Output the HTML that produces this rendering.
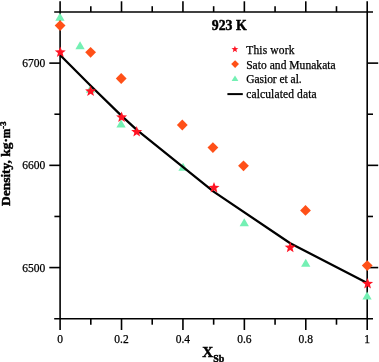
<!DOCTYPE html>
<html lang="en">
<head>
<meta charset="utf-8">
<title>Density vs X_Sb at 923 K</title>
<style>
html,body{margin:0;padding:0;background:#fff;}
body{width:379px;height:362px;overflow:hidden;}
svg{display:block;filter:blur(0.35px);}
</style>
</head>
<body>
<svg width="379" height="362" viewBox="0 0 379 362">
<rect width="379" height="362" fill="#fff"/>
<g stroke="#000" stroke-width="1.60" fill="none">
<line x1="54.2" y1="12.0" x2="373" y2="12.0"/>
<line x1="54.2" y1="318.7" x2="373" y2="318.7"/>
<line x1="60.1" y1="1.3" x2="60.1" y2="330.0"/>
<line x1="367.2" y1="1.3" x2="367.2" y2="330.0"/>
<line x1="90.81" y1="6.2" x2="90.81" y2="12.0"/>
<line x1="90.81" y1="318.7" x2="90.81" y2="324.7"/>
<line x1="121.52" y1="1.3" x2="121.52" y2="12.0"/>
<line x1="121.52" y1="318.7" x2="121.52" y2="330.0"/>
<line x1="152.23" y1="6.2" x2="152.23" y2="12.0"/>
<line x1="152.23" y1="318.7" x2="152.23" y2="324.7"/>
<line x1="182.94" y1="1.3" x2="182.94" y2="12.0"/>
<line x1="182.94" y1="318.7" x2="182.94" y2="330.0"/>
<line x1="213.65" y1="6.2" x2="213.65" y2="12.0"/>
<line x1="213.65" y1="318.7" x2="213.65" y2="324.7"/>
<line x1="244.36" y1="1.3" x2="244.36" y2="12.0"/>
<line x1="244.36" y1="318.7" x2="244.36" y2="330.0"/>
<line x1="275.07" y1="6.2" x2="275.07" y2="12.0"/>
<line x1="275.07" y1="318.7" x2="275.07" y2="324.7"/>
<line x1="305.78" y1="1.3" x2="305.78" y2="12.0"/>
<line x1="305.78" y1="318.7" x2="305.78" y2="330.0"/>
<line x1="336.49" y1="6.2" x2="336.49" y2="12.0"/>
<line x1="336.49" y1="318.7" x2="336.49" y2="324.7"/>
<line x1="49.3" y1="63.12" x2="60.1" y2="63.12"/>
<line x1="367.2" y1="63.12" x2="378.2" y2="63.12"/>
<line x1="54.4" y1="114.23" x2="60.1" y2="114.23"/>
<line x1="367.2" y1="114.23" x2="373" y2="114.23"/>
<line x1="49.3" y1="165.35" x2="60.1" y2="165.35"/>
<line x1="367.2" y1="165.35" x2="378.2" y2="165.35"/>
<line x1="54.4" y1="216.47" x2="60.1" y2="216.47"/>
<line x1="367.2" y1="216.47" x2="373" y2="216.47"/>
<line x1="49.3" y1="267.58" x2="60.1" y2="267.58"/>
<line x1="367.2" y1="267.58" x2="378.2" y2="267.58"/>
</g>
<g id="data">
<polygon points="59.95,12.70 64.60,20.70 55.30,20.70" fill="#74f0b4"/>
<polygon points="80.05,41.30 84.70,49.30 75.40,49.30" fill="#74f0b4"/>
<polygon points="90.45,84.70 95.10,92.70 85.80,92.70" fill="#74f0b4"/>
<polygon points="121.05,119.50 125.70,127.50 116.40,127.50" fill="#74f0b4"/>
<polygon points="183.05,162.70 187.70,170.70 178.40,170.70" fill="#74f0b4"/>
<polygon points="244.25,218.30 248.90,226.30 239.60,226.30" fill="#74f0b4"/>
<polygon points="305.75,258.70 310.40,266.70 301.10,266.70" fill="#74f0b4"/>
<polygon points="367.05,291.50 371.70,299.50 362.40,299.50" fill="#74f0b4"/>
<polygon points="60.10,20.20 65.50,25.60 60.10,31.00 54.70,25.60" fill="#ff5018"/>
<polygon points="90.60,46.90 96.00,52.30 90.60,57.70 85.20,52.30" fill="#ff5018"/>
<polygon points="121.20,73.10 126.60,78.50 121.20,83.90 115.80,78.50" fill="#ff5018"/>
<polygon points="182.30,119.60 187.70,125.00 182.30,130.40 176.90,125.00" fill="#ff5018"/>
<polygon points="212.90,142.20 218.30,147.60 212.90,153.00 207.50,147.60" fill="#ff5018"/>
<polygon points="243.50,160.40 248.90,165.80 243.50,171.20 238.10,165.80" fill="#ff5018"/>
<polygon points="305.50,205.00 310.90,210.40 305.50,215.80 300.10,210.40" fill="#ff5018"/>
<polygon points="367.20,260.20 372.60,265.60 367.20,271.00 361.80,265.60" fill="#ff5018"/>
<polyline points="60.3,55.3 90.7,85.8 121.6,115.8 136.8,129.9 213.6,191.6 290.2,243.3 367.2,283.0" fill="none" stroke="#000" stroke-width="2.3" stroke-linejoin="round"/>
<polygon points="60.30,46.50 61.73,50.33 65.82,50.51 62.62,53.05 63.71,56.99 60.30,54.74 56.89,56.99 57.98,53.05 54.78,50.51 58.87,50.33" fill="#ff1424"/>
<polygon points="90.60,85.50 92.03,89.33 96.12,89.51 92.92,92.05 94.01,95.99 90.60,93.74 87.19,95.99 88.28,92.05 85.08,89.51 89.17,89.33" fill="#ff1424"/>
<polygon points="121.60,111.50 123.03,115.33 127.12,115.51 123.92,118.05 125.01,121.99 121.60,119.74 118.19,121.99 119.28,118.05 116.08,115.51 120.17,115.33" fill="#ff1424"/>
<polygon points="136.70,126.10 138.13,129.93 142.22,130.11 139.02,132.65 140.11,136.59 136.70,134.34 133.29,136.59 134.38,132.65 131.18,130.11 135.27,129.93" fill="#ff1424"/>
<polygon points="214.00,181.90 215.43,185.73 219.52,185.91 216.32,188.45 217.41,192.39 214.00,190.14 210.59,192.39 211.68,188.45 208.48,185.91 212.57,185.73" fill="#ff1424"/>
<polygon points="290.20,241.70 291.63,245.53 295.72,245.71 292.52,248.25 293.61,252.19 290.20,249.94 286.79,252.19 287.88,248.25 284.68,245.71 288.77,245.53" fill="#ff1424"/>
<polygon points="367.60,278.00 369.03,281.83 373.12,282.01 369.92,284.55 371.01,288.49 367.60,286.24 364.19,288.49 365.28,284.55 362.08,282.01 366.17,281.83" fill="#ff1424"/>
</g>
<g font-family="'Liberation Serif', 'Times New Roman', serif" font-size="11.5" fill="#000" stroke="#000" stroke-width="0.25">
<text x="60.1" y="342.6" text-anchor="middle">0</text>
<text x="121.5" y="342.6" text-anchor="middle">0.2</text>
<text x="182.9" y="342.6" text-anchor="middle">0.4</text>
<text x="244.4" y="342.6" text-anchor="middle">0.6</text>
<text x="305.8" y="342.6" text-anchor="middle">0.8</text>
<text x="367.2" y="342.6" text-anchor="middle">1</text>
<text x="45.2" y="67.0" text-anchor="end">6700</text>
<text x="45.2" y="169.2" text-anchor="end">6600</text>
<text x="45.2" y="271.5" text-anchor="end">6500</text>
<text x="246.2" y="54.0" letter-spacing="0.17">This work</text>
<text x="246.2" y="68.7" letter-spacing="0.04">Sato and Munakata</text>
<text x="246.2" y="83.3" letter-spacing="-0.03">Gasior et al.</text>
<text x="246.2" y="98.0" letter-spacing="0.13">calculated data</text>
</g>
<text x="211.8" y="29.5" font-family="'Liberation Serif', 'Times New Roman', serif" font-size="13.8" font-weight="bold" fill="#000" stroke="#000" stroke-width="0.45">923 K</text>
<text x="202.2" y="356.9" font-family="'Liberation Serif', 'Times New Roman', serif" font-size="15.2" font-weight="bold" fill="#000" stroke="#000" stroke-width="0.45">X<tspan font-size="9.9" dy="4.8" dx="0.2">Sb</tspan></text>
<text transform="translate(10.4 206.1) rotate(-90) scale(1.055 1)" font-family="'Liberation Serif', 'Times New Roman', serif" font-size="12.8" font-weight="bold" fill="#000" stroke="#000" stroke-width="0.45">Density, kg·<tspan textLength="8.7" lengthAdjust="spacingAndGlyphs">m</tspan><tspan font-size="8.2" dy="-4.4">-3</tspan></text>
<polygon points="234.90,45.70 235.79,48.08 238.32,48.19 236.34,49.77 237.02,52.21 234.90,50.81 232.78,52.21 233.46,49.77 231.48,48.19 234.01,48.08" fill="#ff1424"/>
<polygon points="235.10,60.20 239.00,64.10 235.10,68.00 231.20,64.10" fill="#ff5018"/>
<polygon points="235.00,75.40 238.40,81.00 231.60,81.00" fill="#74f0b4"/>
<line x1="227.4" y1="94.1" x2="242.8" y2="94.1" stroke="#000" stroke-width="2"/>
</svg>
</body>
</html>
